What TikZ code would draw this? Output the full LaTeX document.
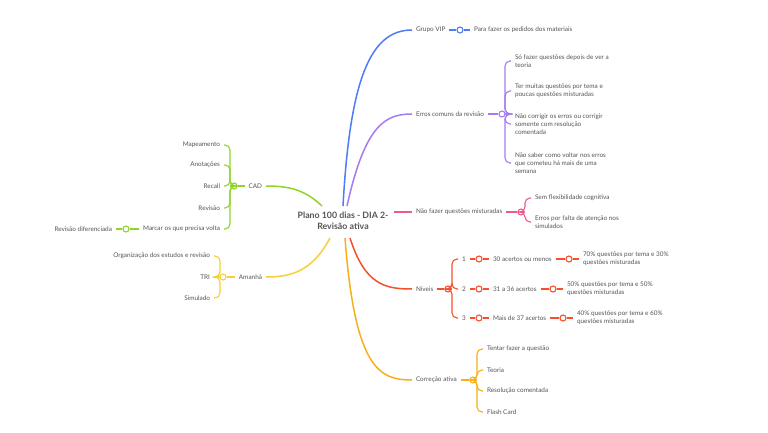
\documentclass[tikz,border=0pt]{standalone}
\usepackage{fontspec}
\setmainfont{Lato}
\definecolor{cblue}{HTML}{4F7CF6}
\definecolor{cpurp}{HTML}{A77BF0}
\definecolor{cpink}{HTML}{EE5A8C}
\definecolor{cred}{HTML}{F4502E}
\definecolor{corg}{HTML}{F5B01A}
\definecolor{cgreen}{HTML}{8ED42A}
\definecolor{cyel}{HTML}{F7CF3A}
\definecolor{ctxt}{HTML}{555555}
\tikzset{
 t/.style={font=\fontsize{6.4}{8.2}\selectfont, text=ctxt, inner sep=1pt, outer sep=3pt, align=left},
 tl/.style={t, anchor=west},
 tr/.style={t, anchor=east, align=right},
 dot/.style={circle, draw, fill=white, line width=1.1pt, minimum size=6pt, inner sep=0pt},
 br/.style={line width=1.1pt, rounded corners=5pt},
 mb/.style={line width=1.5pt},
}
\begin{document}
\begin{tikzpicture}[x=1pt,y=-1pt]
\fill[white] (0,0) rectangle (768,433);
\useasboundingbox (0,0) rectangle (768,433);
\node[font=\fontsize{8.8}{11}\selectfont\bfseries, text=ctxt, align=center] (c) at (343,221) {Plano 100 dias - DIA 2-\\Revisão ativa};
% blue
\node[tl] (vip) at (412,30) {Grupo VIP};
\node[dot, draw=cblue] (vipd) at (460,30) {};
\node[tl] (vip1) at (470,30) {Para fazer os pedidos dos materiais};
\draw[mb, cblue] (343,206) .. controls (350,80) and (370,30) .. (vip.west);
\draw[br, cblue] (vip.east) -- (vipd.west) (vipd.east) -- (vip1.west);
% purple
\node[tl] (er) at (412,114) {Erros comuns da revisão};
\node[dot, draw=cpurp] (erd) at (502,114) {};
\node[tl] (er1) at (511,61) {Só fazer questões depois de ver a\\teoria};
\node[tl] (er2) at (511,91) {Ter muitas questões por tema e\\poucas questões misturadas};
\node[tl] (er3) at (511,124) {Não corrigir os erros ou corrigir\\somente com resolução\\comentada};
\node[tl] (er4) at (511,163) {Não saber como voltar nos erros\\que cometeu há mais de uma\\semana};
\draw[mb, cpurp] (347,206) .. controls (365,125) and (385,114) .. (er.west);
\draw[br, cpurp] (er.east) -- (erd.west);
\foreach \n in {er1,er2,er3,er4}{\draw[br, cpurp] (erd.east) -| ([xshift=-6pt]\n.west) -- (\n.west);}
% pink
\node[tl] (nf) at (412,212) {Não fazer questões misturadas};
\node[dot, draw=cpink] (nfd) at (521,212) {};
\node[tl] (nf1) at (531,198) {Sem flexibilidade cognitiva};
\node[tl] (nf2) at (531,222) {Erros por falta de atenção nos\\simulados};
\draw[mb, cpink] (c.east |- nf) ++(2,0) -- (nf.west);
\draw[br, cpink] (nf.east) -- (nfd.west);
\foreach \n in {nf1,nf2}{\draw[br, cpink] (nfd.east) -| ([xshift=-6pt]\n.west) -- (\n.west);}
% red
\node[tl] (nv) at (412,289) {Níveis};
\node[dot, draw=cred] (nvd) at (448,289) {};
\draw[mb, cred] (350,238) .. controls (365,285) and (385,289) .. (nv.west);
\draw[br, cred] (nv.east) -- (nvd.west);
\foreach \i/\y/\a/\dx/\b in {1/259/30 acertos ou menos/569/{70\% questões por tema e 30\%\\questões misturadas},2/289/31 a 36 acertos/553/{50\% questões por tema e 50\%\\questões misturadas},3/318/Mais de 37 acertos/563/{40\% questões por tema e 60\%\\questões misturadas}}{
 \node[tl] (n\i) at (458,\y) {\i};
 \node[dot, draw=cred] (n\i d) at (479,\y) {};
 \node[tl] (n\i a) at (489,\y) {\a};
 \node[dot, draw=cred] (n\i e) at (\dx,\y) {};
 \node[tl] (n\i b) at (\dx+10,\y) {\b};
 \draw[br, cred] (nvd.east) -| ([xshift=-6pt]n\i.west) -- (n\i.west);
 \draw[line width=1.1pt, cred] (n\i.east) -- (n\i d.west) (n\i d.east) -- (n\i a.west);
 \draw[line width=1.1pt, cred] (n\i a.east) -- (n\i e.west) (n\i e.east) -- (n\i b.west);
}
% orange
\node[tl] (co) at (412,380) {Correção ativa};
\node[dot, draw=corg] (cod) at (473,380) {};
\draw[mb, corg] (345,238) .. controls (355,370) and (380,380) .. (co.west);
\draw[br, corg] (co.east) -- (cod.west);
\foreach \n/\y/\s in {co1/349/Tentar fazer a questão,co2/370/Teoria,co3/391/Resolução comentada,co4/412/Flash Card}{
 \node[tl] (\n) at (483,\y) {\s};
 \draw[br, corg] (cod.east) -| ([xshift=-6pt]\n.west) -- (\n.west);}
% green
\node[tr] (cad) at (266,186) {CAD};
\node[dot, draw=cgreen] (cadd) at (234,186) {};
\draw[mb, cgreen] (322,206) .. controls (305,190) and (290,186) .. (cad.east);
\draw[br, cgreen] (cad.west) -- (cadd.east);
\foreach \n/\y/\s in {g1/145/Mapeamento,g2/165/Anotações,g3/186/Recall,g4/208/Revisão,g5/229/Marcar os que precisa volta}{
 \node[tr] (\n) at (224,\y) {\s};
 \draw[br, cgreen] (cadd.west) -| ([xshift=6pt]\n.east) -- (\n.east);}
\node[dot, draw=cgreen] (g5d) at (126,229) {};
\node[tr] (g6) at (116,229) {Revisão diferenciada};
\draw[line width=1.1pt, cgreen] (g5.west) -- (g5d.east) (g5d.west) -- (g6.east);
% yellow
\node[tr] (am) at (266,277) {Amanhã};
\node[dot, draw=cyel] (amd) at (223,277) {};
\draw[mb, cyel] (330,238) .. controls (312,272) and (290,277) .. (am.east);
\draw[br, cyel] (am.west) -- (amd.east);
\foreach \n/\y/\s in {y1/256/Organização dos estudos e revisão,y2/277/TRI,y3/298/Simulado}{
 \node[tr] (\n) at (214,\y) {\s};
 \draw[br, cyel] (amd.west) -| ([xshift=6pt]\n.east) -- (\n.east);}
\end{tikzpicture}
\end{document}
